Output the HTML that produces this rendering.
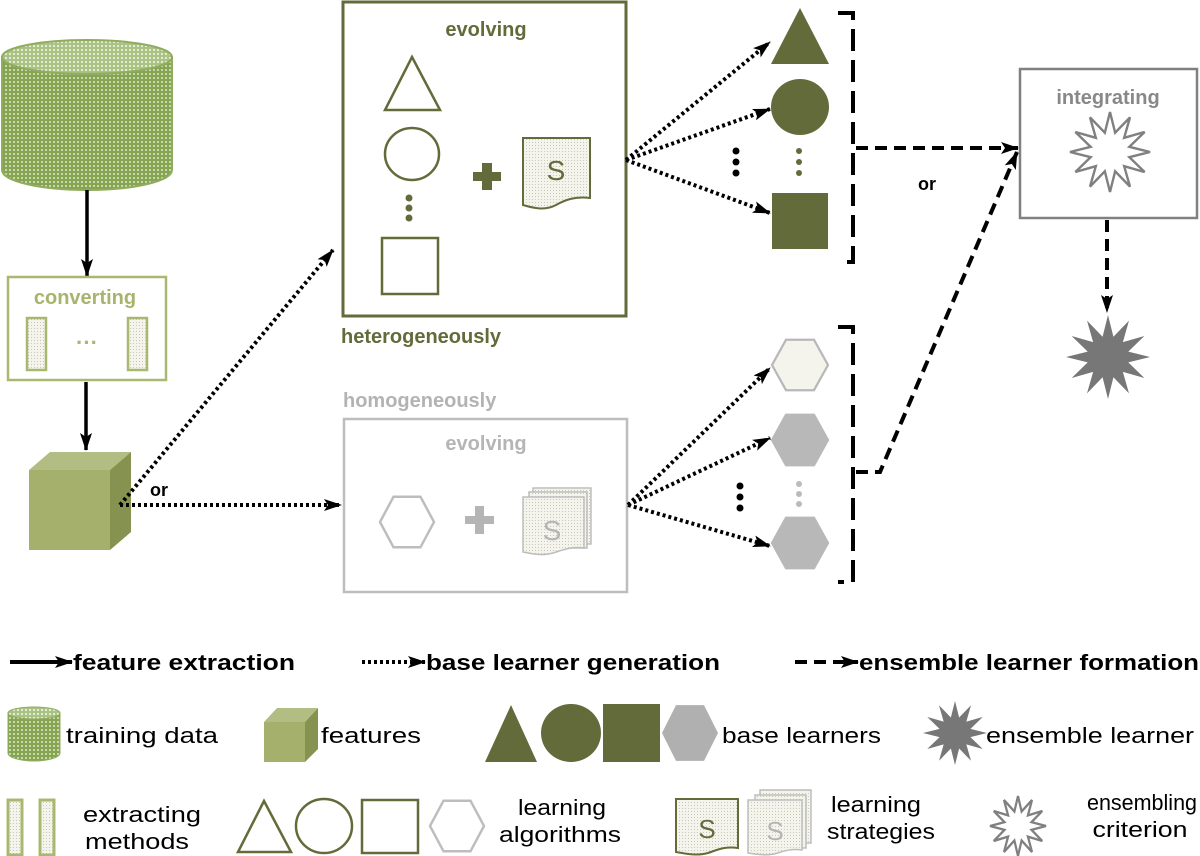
<!DOCTYPE html>
<html><head><meta charset="utf-8"><style>
html,body{margin:0;padding:0;background:#fff;width:1200px;height:856px;overflow:hidden}
svg{display:block}
text{font-family:"Liberation Sans",sans-serif}
</style></head><body>
<svg width="1200" height="856" viewBox="0 0 1200 856" xmlns="http://www.w3.org/2000/svg">
<defs>
<marker id="ah" markerWidth="18" markerHeight="12" refX="17" refY="6" orient="auto" markerUnits="userSpaceOnUse"><path d="M0,0 L18,6 L0,12 L4,6 Z" fill="#000"/></marker>
<pattern id="grid" width="4" height="4" patternUnits="userSpaceOnUse"><rect width="4" height="4" fill="#86a552"/><rect x="1" y="1" width="2" height="2" fill="#c8d8a8"/></pattern>
<pattern id="gridT" width="4" height="4" patternUnits="userSpaceOnUse"><rect width="4" height="4" fill="#aac283"/><rect x="1" y="1" width="2" height="2" fill="#e2ecd2"/></pattern>
<pattern id="dots" width="3" height="3" patternUnits="userSpaceOnUse"><rect width="3" height="3" fill="#f4f4ec"/><rect x="1" y="1" width="1" height="1" fill="#c8c8b8"/></pattern>
<pattern id="hexp" width="4" height="4" patternUnits="userSpaceOnUse"><rect width="4" height="4" fill="#b8b8b8"/><rect x="1" y="1" width="2" height="2" fill="#dedede"/></pattern>
<polygon id="star" points="1,0 0.483,0.129 0.866,0.5 0.354,0.354 0.5,0.866 0.129,0.483 0,1 -0.129,0.483 -0.5,0.866 -0.354,0.354 -0.866,0.5 -0.483,0.129 -1,0 -0.483,-0.129 -0.866,-0.5 -0.354,-0.354 -0.5,-0.866 -0.129,-0.483 0,-1 0.129,-0.483 0.5,-0.866 0.354,-0.354 0.866,-0.5 0.483,-0.129"/>
<polygon id="hex" points="-1,0 -0.5,-0.9 0.5,-0.9 1,0 0.5,0.9 -0.5,0.9"/>
</defs>

<!-- cylinder -->
<path d="M2,57 V170 A85,20 0 0 0 172,170 V57 Z" fill="url(#grid)" stroke="#8fac5f" stroke-width="2"/>
<ellipse cx="87" cy="57" rx="85" ry="17" fill="url(#gridT)" stroke="#8fac5f" stroke-width="2"/>
<line x1="87" y1="190" x2="87" y2="276" stroke="#000" stroke-width="3.5" marker-end="url(#ah)"/>

<!-- converting -->
<rect x="8" y="277" width="158" height="103" fill="#fff" stroke="#a9b870" stroke-width="2.5"/>
<text x="85" y="304" text-anchor="middle" font-size="20" font-weight="bold" fill="#a7b56c">converting</text>
<rect x="27" y="318" width="19" height="52" fill="url(#dots)" stroke="#a9b870" stroke-width="2.5"/>
<rect x="128" y="318" width="19" height="52" fill="url(#dots)" stroke="#a9b870" stroke-width="2.5"/>
<text x="87" y="350" text-anchor="middle" font-size="22" font-weight="bold" fill="#a9b870">···</text>
<line x1="86" y1="382" x2="86" y2="450" stroke="#000" stroke-width="3.5" marker-end="url(#ah)"/>

<!-- cube -->
<polygon points="29,470 50,452 131,452 110,470" fill="#b1bd83"/>
<rect x="29" y="470" width="81" height="80" fill="#a4b06b"/>
<polygon points="110,470 131,452 131,532 110,550" fill="#86924f"/>
<text x="150" y="496" font-size="18" font-weight="bold" fill="#000">or</text>
<line x1="120" y1="505" x2="333" y2="250" stroke="#000" stroke-width="4" stroke-dasharray="3,3" marker-end="url(#ah)"/>
<line x1="120" y1="505" x2="341" y2="505" stroke="#000" stroke-width="4" stroke-dasharray="3,3" marker-end="url(#ah)"/>

<!-- heterogeneous box -->
<rect x="343" y="2" width="283" height="314" fill="#fff" stroke="#636b3a" stroke-width="3"/>
<text x="486" y="36" text-anchor="middle" font-size="20" font-weight="bold" fill="#636b3a">evolving</text>
<polygon points="385,110 440,110 412,57" fill="#fff" stroke="#636b3a" stroke-width="2.5"/>
<ellipse cx="412" cy="154" rx="27" ry="26" fill="#fff" stroke="#636b3a" stroke-width="2.5"/>
<circle cx="409" cy="198" r="3.5" fill="#636b3a"/><circle cx="409" cy="208" r="3.5" fill="#636b3a"/><circle cx="409" cy="218" r="3.5" fill="#636b3a"/>
<rect x="382" y="238" width="56" height="56" fill="#fff" stroke="#636b3a" stroke-width="2.5"/>
<rect x="473" y="172" width="28" height="9" fill="#636b3a"/><rect x="482" y="163" width="10" height="27" fill="#636b3a"/>
<path d="M523,138 H590 V198 C575,196 565,200 556,205 C545,211 533,208 523,205 Z" fill="url(#dots)" stroke="#636b3a" stroke-width="2"/>
<text x="556" y="180" text-anchor="middle" font-size="28" fill="#636b3a">S</text>
<text x="341" y="343" font-size="20" font-weight="bold" fill="#636b3a">heterogeneously</text>

<line x1="626" y1="160" x2="770" y2="42" stroke="#000" stroke-width="4" stroke-dasharray="3,3" marker-end="url(#ah)"/>
<line x1="626" y1="160" x2="770" y2="109" stroke="#000" stroke-width="4" stroke-dasharray="3,3" marker-end="url(#ah)"/>
<line x1="626" y1="160" x2="770" y2="213" stroke="#000" stroke-width="4" stroke-dasharray="3,3" marker-end="url(#ah)"/>

<polygon points="771,64 829,64 800,8" fill="#636b3a"/>
<ellipse cx="800" cy="107" rx="29" ry="28" fill="#636b3a"/>
<circle cx="736" cy="151" r="3.5" fill="#000"/><circle cx="736" cy="162" r="3.5" fill="#000"/><circle cx="736" cy="173" r="3.5" fill="#000"/>
<circle cx="799" cy="151" r="3" fill="#636b3a"/><circle cx="799" cy="162" r="3" fill="#636b3a"/><circle cx="799" cy="173" r="3" fill="#636b3a"/>
<rect x="772" y="193" width="56" height="56" fill="#636b3a"/>

<path d="M838,13 H853 V262 H838" fill="none" stroke="#000" stroke-width="4" stroke-dasharray="22,9"/>
<path d="M838,327 H853 V582 H838" fill="none" stroke="#000" stroke-width="4" stroke-dasharray="22,9"/>

<!-- homogeneous -->
<text x="343" y="407" font-size="20" font-weight="bold" fill="#b3b3b3">homogeneously</text>
<rect x="344" y="419" width="283" height="173" fill="#fff" stroke="#bdbdbd" stroke-width="2.5"/>
<text x="486" y="450" text-anchor="middle" font-size="20" font-weight="bold" fill="#b5b5b5">evolving</text>
<use href="#hex" transform="translate(407,522) scale(27,28)" fill="#fff" stroke="#bdbdbd" stroke-width="0.09"/>
<rect x="465" y="516" width="29" height="8" fill="#b5b5b5"/><rect x="475" y="506" width="9" height="28" fill="#b5b5b5"/>
<rect x="533" y="488" width="58" height="56" fill="url(#dots)" stroke="#bdbdbd" stroke-width="1.5"/>
<rect x="529" y="492" width="58" height="56" fill="url(#dots)" stroke="#bdbdbd" stroke-width="1.5"/>
<path d="M523,497 H584 V548 C572,546 563,550 553,553 C543,556 533,554 523,552 Z" fill="url(#dots)" stroke="#bdbdbd" stroke-width="1.5"/>
<text x="552" y="540" text-anchor="middle" font-size="28" fill="#b5b5b5">S</text>

<line x1="628" y1="505" x2="770" y2="368" stroke="#000" stroke-width="4" stroke-dasharray="3,3" marker-end="url(#ah)"/>
<line x1="628" y1="505" x2="770" y2="438" stroke="#000" stroke-width="4" stroke-dasharray="3,3" marker-end="url(#ah)"/>
<line x1="628" y1="505" x2="770" y2="546" stroke="#000" stroke-width="4" stroke-dasharray="3,3" marker-end="url(#ah)"/>

<use href="#hex" transform="translate(800,365) scale(28,28)" fill="url(#dots)" stroke="#b8b8b8" stroke-width="0.08"/>
<use href="#hex" transform="translate(800,440) scale(28,28)" fill="url(#hexp)" stroke="#b8b8b8" stroke-width="0.08"/>
<use href="#hex" transform="translate(800,543) scale(28,28)" fill="url(#hexp)" stroke="#b8b8b8" stroke-width="0.08"/>
<circle cx="740" cy="486" r="3.5" fill="#000"/><circle cx="740" cy="497" r="3.5" fill="#000"/><circle cx="740" cy="508" r="3.5" fill="#000"/>
<circle cx="799" cy="484" r="3" fill="#bbb"/><circle cx="799" cy="494" r="3" fill="#bbb"/><circle cx="799" cy="504" r="3" fill="#bbb"/>

<!-- ensemble -->
<line x1="856" y1="148" x2="1018" y2="148" stroke="#000" stroke-width="4" stroke-dasharray="12,7" marker-end="url(#ah)"/>
<text x="918" y="190" font-size="18" font-weight="bold" fill="#000">or</text>
<polyline points="856,472 880,472 1017,152" fill="none" stroke="#000" stroke-width="4" stroke-dasharray="12,7" marker-end="url(#ah)"/>
<rect x="1020" y="69" width="177" height="149" fill="#fff" stroke="#808080" stroke-width="2.5"/>
<text x="1108" y="104" text-anchor="middle" font-size="20" font-weight="bold" fill="#888">integrating</text>
<use href="#star" transform="translate(1110,152) scale(40,40)" fill="#fff" stroke="#808080" stroke-width="0.06"/>
<line x1="1107" y1="220" x2="1107" y2="312" stroke="#000" stroke-width="4" stroke-dasharray="12,7" marker-end="url(#ah)"/>
<use href="#star" transform="translate(1108,357) scale(42,42)" fill="#777"/>

<!-- legend row 1 -->
<line x1="10" y1="662" x2="72" y2="662" stroke="#000" stroke-width="4" marker-end="url(#ah)"/>
<text x="73" y="670" font-size="22" font-weight="bold" textLength="222" lengthAdjust="spacingAndGlyphs">feature extraction</text>
<line x1="362" y1="662" x2="425" y2="662" stroke="#000" stroke-width="4" stroke-dasharray="3,3" marker-end="url(#ah)"/>
<text x="426" y="670" font-size="22" font-weight="bold" textLength="294" lengthAdjust="spacingAndGlyphs">base learner generation</text>
<line x1="795" y1="662" x2="858" y2="662" stroke="#000" stroke-width="4" stroke-dasharray="12,7" marker-end="url(#ah)"/>
<text x="859" y="670" font-size="22" font-weight="bold" textLength="340" lengthAdjust="spacingAndGlyphs">ensemble learner formation</text>

<!-- legend row 2 -->
<path d="M8,713 V753 A26,8 0 0 0 60,753 V713 Z" fill="url(#grid)" stroke="#8fac5f"/>
<ellipse cx="34" cy="713" rx="26" ry="6" fill="url(#gridT)" stroke="#8fac5f"/>
<text x="66" y="743" font-size="22" textLength="152" lengthAdjust="spacingAndGlyphs">training data</text>
<polygon points="264,722 277,708 318,708 305,722" fill="#b1bd83"/>
<rect x="264" y="722" width="41" height="40" fill="#a4b06b"/>
<polygon points="305,722 318,708 318,749 305,762" fill="#86924f"/>
<text x="321" y="743" font-size="22" textLength="100" lengthAdjust="spacingAndGlyphs">features</text>
<polygon points="485,762 537,762 511,705" fill="#636b3a"/>
<ellipse cx="571" cy="733" rx="30" ry="29" fill="#636b3a"/>
<rect x="603" y="704" width="57" height="58" fill="#636b3a"/>
<use href="#hex" transform="translate(690,733) scale(28,31)" fill="#b0b0b0"/>
<text x="722" y="743" font-size="22" textLength="159" lengthAdjust="spacingAndGlyphs">base learners</text>
<use href="#star" transform="translate(955,733) scale(32,32)" fill="#777"/>
<text x="986" y="743" font-size="22" textLength="208" lengthAdjust="spacingAndGlyphs">ensemble learner</text>

<!-- legend row 3 -->
<rect x="8" y="800" width="14" height="55" fill="url(#dots)" stroke="#a9b870" stroke-width="3"/>
<rect x="40" y="800" width="14" height="55" fill="url(#dots)" stroke="#a9b870" stroke-width="3"/>
<text x="142" y="822" text-anchor="middle" font-size="22" textLength="118" lengthAdjust="spacingAndGlyphs">extracting</text>
<text x="137" y="849" text-anchor="middle" font-size="22" textLength="104" lengthAdjust="spacingAndGlyphs">methods</text>
<polygon points="238,852 291,852 264,801" fill="#fff" stroke="#636b3a" stroke-width="2.5"/>
<ellipse cx="324" cy="826" rx="28" ry="27" fill="#fff" stroke="#636b3a" stroke-width="2.5"/>
<rect x="362" y="800" width="56" height="53" fill="#fff" stroke="#636b3a" stroke-width="2.5"/>
<use href="#hex" transform="translate(457,826) scale(27,28)" fill="#fff" stroke="#bdbdbd" stroke-width="0.09"/>
<text x="562" y="815" text-anchor="middle" font-size="22" textLength="88" lengthAdjust="spacingAndGlyphs">learning</text>
<text x="560" y="842" text-anchor="middle" font-size="22" textLength="122" lengthAdjust="spacingAndGlyphs">algorithms</text>
<path d="M676,799 H738 V848 C725,846 717,850 708,853 C698,856 687,854 676,852 Z" fill="url(#dots)" stroke="#636b3a" stroke-width="2"/>
<text x="707" y="838" text-anchor="middle" font-size="26" fill="#636b3a">S</text>
<rect x="760" y="790" width="51" height="53" fill="url(#dots)" stroke="#bdbdbd" stroke-width="1.5"/>
<rect x="755" y="795" width="51" height="53" fill="url(#dots)" stroke="#bdbdbd" stroke-width="1.5"/>
<path d="M748,800 H802 V850 C790,848 782,852 774,854 C765,856 756,854 748,853 Z" fill="url(#dots)" stroke="#bdbdbd" stroke-width="1.5"/>
<text x="775" y="840" text-anchor="middle" font-size="26" fill="#b5b5b5">S</text>
<text x="876" y="812" text-anchor="middle" font-size="22" textLength="90" lengthAdjust="spacingAndGlyphs">learning</text>
<text x="881" y="839" text-anchor="middle" font-size="22" textLength="108" lengthAdjust="spacingAndGlyphs">strategies</text>
<use href="#star" transform="translate(1018,826) scale(28,30)" fill="#fff" stroke="#808080" stroke-width="0.08"/>
<text x="1142" y="810" text-anchor="middle" font-size="22" textLength="110" lengthAdjust="spacingAndGlyphs">ensembling</text>
<text x="1140" y="837" text-anchor="middle" font-size="22" textLength="95" lengthAdjust="spacingAndGlyphs">criterion</text>
</svg>
</body></html>
